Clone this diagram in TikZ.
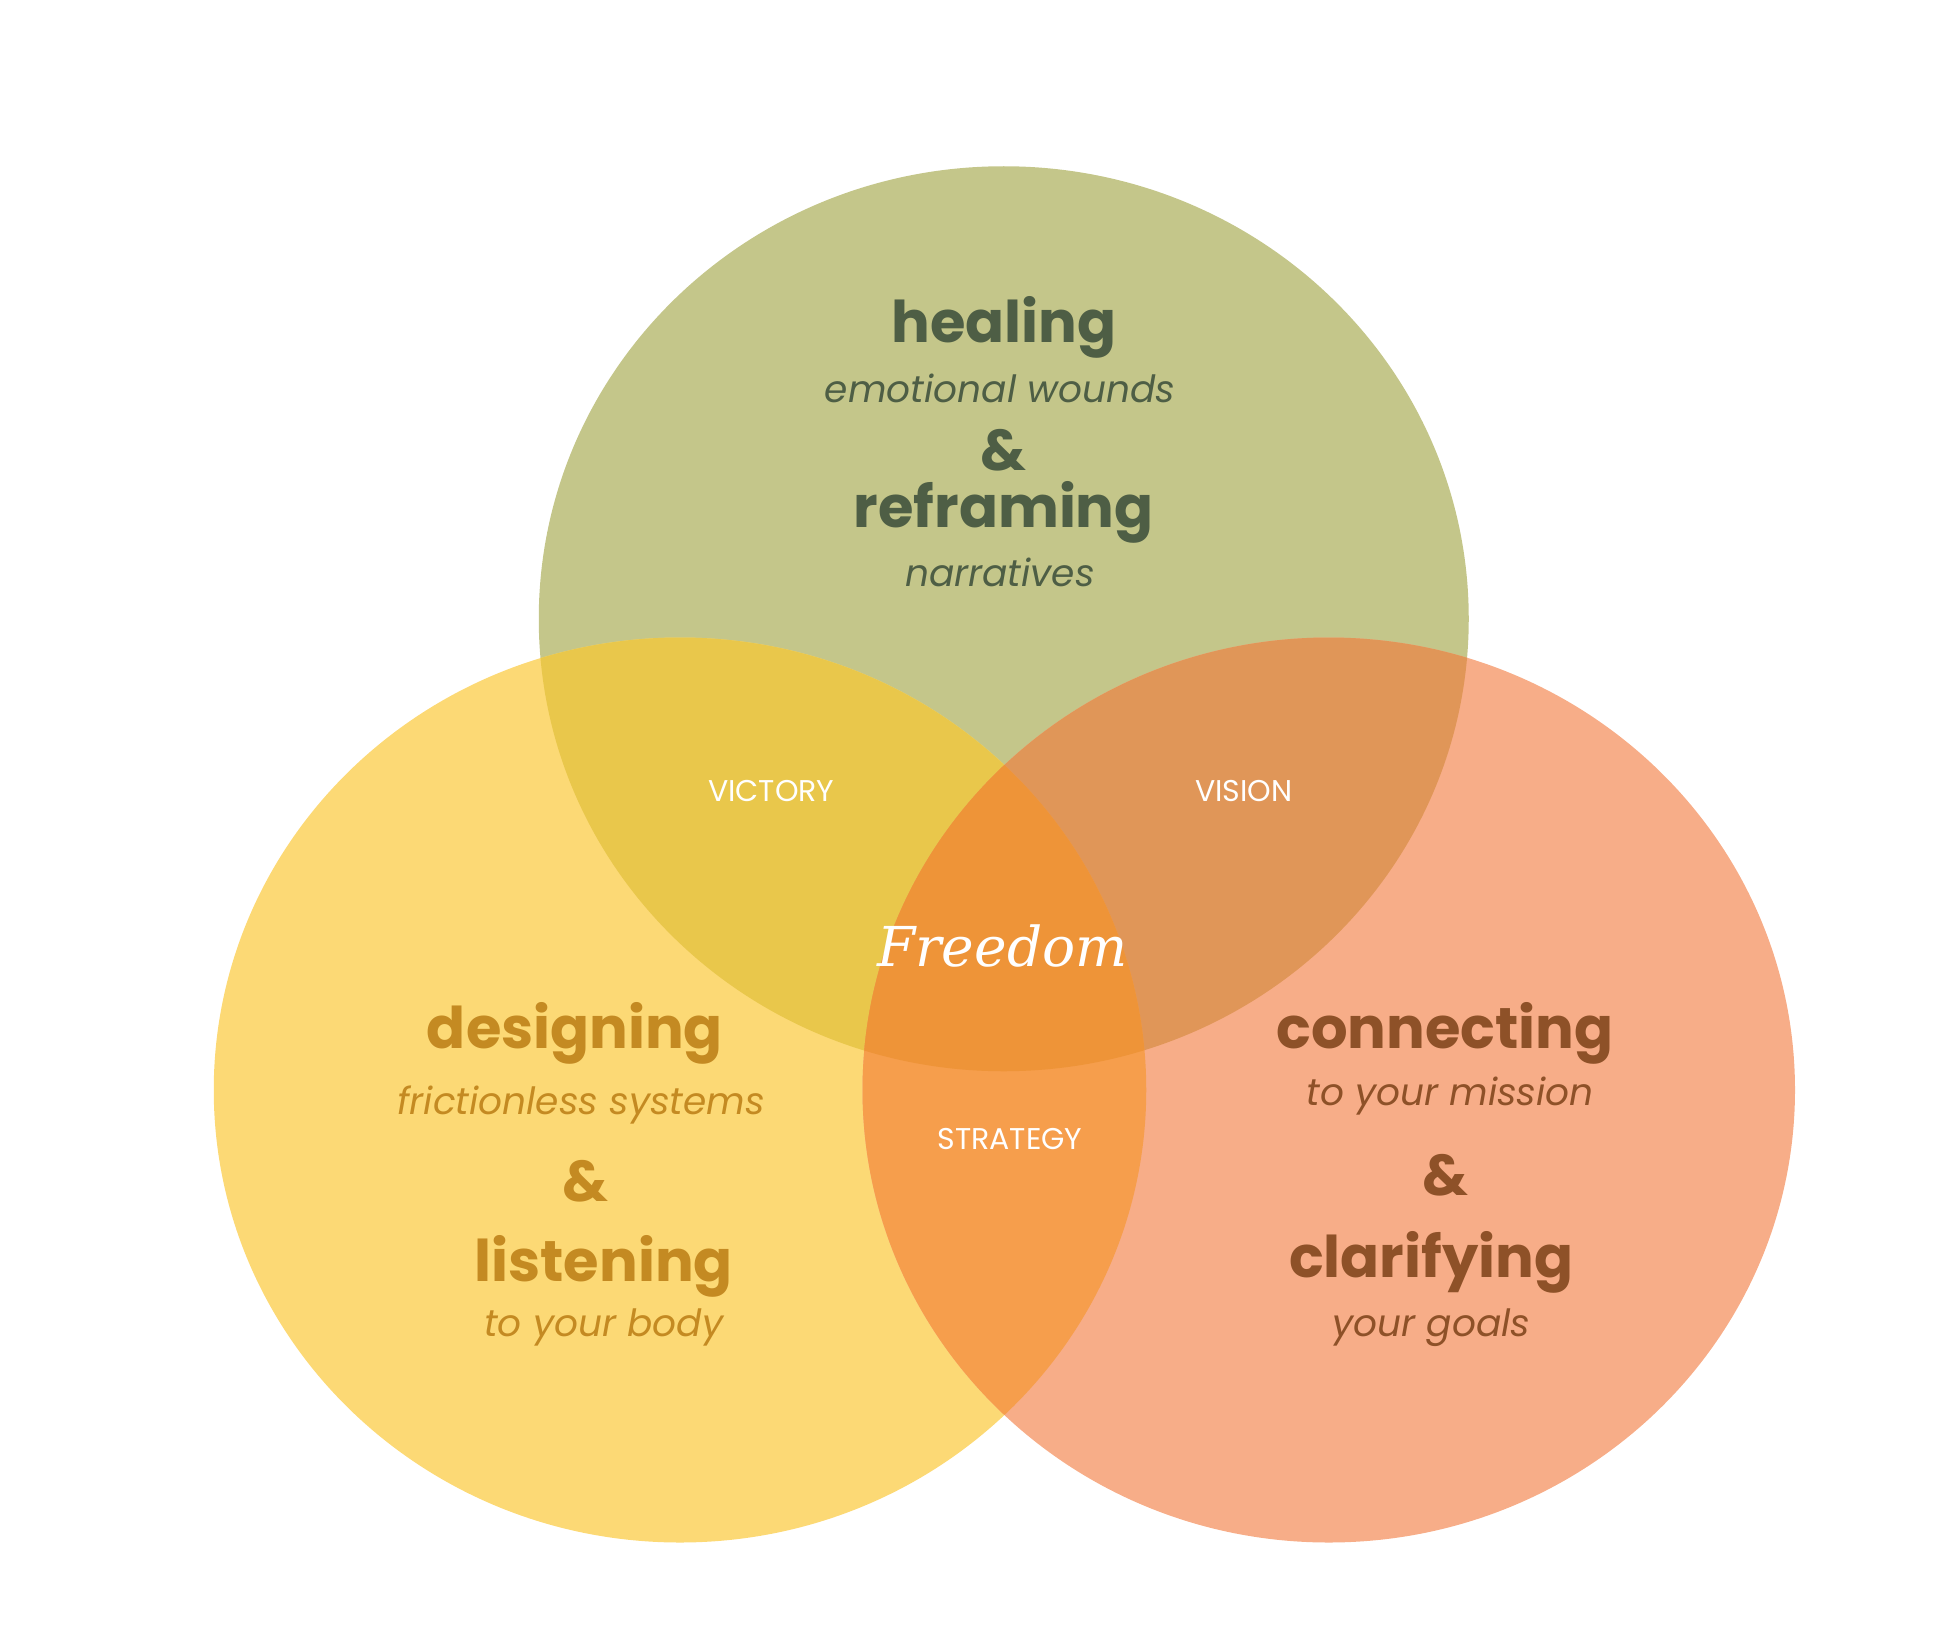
\documentclass[tikz,border=0pt]{standalone}
\usepackage{fontspec}
\setmainfont{Poppins}
\definecolor{cT}{HTML}{C4C68A}
\definecolor{cL}{HTML}{FCD975}
\definecolor{cR}{HTML}{F7AD88}
\definecolor{cTL}{HTML}{E9C74B}
\definecolor{cTR}{HTML}{E09658}
\definecolor{cLR}{HTML}{F69E4C}
\definecolor{cC}{HTML}{EE9438}
\definecolor{tT}{HTML}{4E5E45}
\definecolor{tL}{HTML}{C48A22}
\definecolor{tR}{HTML}{8E5128}
\begin{document}
\begin{tikzpicture}[x=1pt,y=-1pt,
  big/.style={font=\fontsize{46}{50}\selectfont\bfseries},
  sub/.style={font=\fontsize{30}{34}\selectfont\itshape},
  lab/.style={font=\fontsize{24}{28}\selectfont, text=white}]
\useasboundingbox (0,0) rectangle (1560,1308);
\def\T{(803,495) ellipse [x radius=372, y radius=362]}
\def\L{(544,872) ellipse [x radius=373, y radius=362]}
\def\R{(1063,872) ellipse [x radius=373, y radius=362]}
\fill[cT] \T; \fill[cL] \L; \fill[cR] \R;
\begin{scope}\clip \T; \fill[cTL] \L; \fill[cTR] \R; \end{scope}
\begin{scope}\clip \L; \fill[cLR] \R; \end{scope}
\begin{scope}\clip \T; \clip \L; \fill[cC] \R; \end{scope}
% top
\node[big,text=tT] (h) at (803,262) {healing};
\node[sub,text=tT] (hs) at (800,311) {emotional wounds};
\node[big,text=tT] (ha) at (803,360) {\&};
\node[big,text=tT] (r) at (803,410) {reframing};
\node[sub,text=tT] (rs) at (800,458) {narratives};
% left
\node[big,text=tL] (d) at (460,827) {designing};
\node[sub,text=tL] (ds) at (465,884) {frictionless systems};
\node[big,text=tL] (da) at (468,945) {\&};
\node[big,text=tL] (l) at (483,1013) {listening};
\node[sub,text=tL] (ls) at (483,1062) {to your body};
% right
\node[big,text=tR] (c) at (1156,827) {connecting};
\node[sub,text=tR] (cs) at (1160,877) {to your mission};
\node[big,text=tR] (ca) at (1156,940) {\&};
\node[big,text=tR] (cl) at (1145,1010) {clarifying};
\node[sub,text=tR] (cls) at (1145,1062) {your goals};
% overlaps
\node[lab] (v1) at (617,633) {VICTORY};
\node[lab] (v2) at (995,633) {VISION};
\node[lab] (st) at (808,911) {STRATEGY};
\node[text=white,font=\fontsize{44}{48}\selectfont\itshape\fontspec{DejaVu Serif}] (f) at (802,757) {Freedom};
\end{tikzpicture}
\end{document}
